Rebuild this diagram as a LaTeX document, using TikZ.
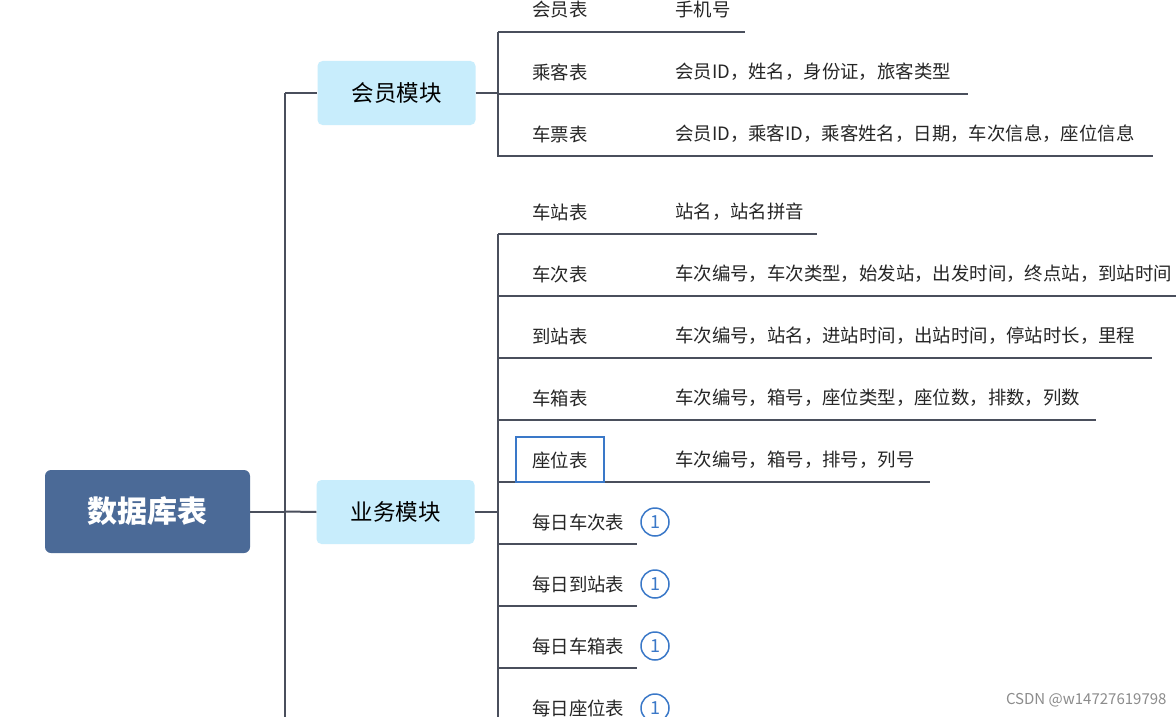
\documentclass[tikz,border=0pt]{standalone}
\usepackage{fontspec}
\setmainfont{Noto Sans CJK SC}
\definecolor{ln}{HTML}{4A4F5C}
\definecolor{rootc}{HTML}{4B6A97}
\definecolor{modc}{HTML}{C8EDFC}
\definecolor{cir}{HTML}{3A78C8}
\tikzset{
  ln/.style={draw=ln,line width=2pt},
  leaf/.style={anchor=west,font=\fontsize{18.4}{18.4}\selectfont,inner sep=0pt,text=black!85},
  mod/.style={fill=modc,rounded corners=5pt,minimum width=158pt,minimum height=64pt,font=\fontsize{22.5}{22.5}\selectfont},
  num/.style={circle,draw=cir,line width=1.5pt,minimum size=28pt,inner sep=0pt,font=\fontsize{18}{18}\selectfont,text=cir}
}
\begin{document}
\begin{tikzpicture}[x=1pt,y=-1pt]
\fill[white] (0,0) rectangle (1176,717);
\useasboundingbox (0,0) rectangle (1176,717);
\node[fill=rootc,rounded corners=6pt,minimum width=205pt,minimum height=83pt,text=white,font=\fontsize{30}{30}\selectfont\bfseries] (root) at (147.5,511.5) {数据库表};
\coordinate (sp) at (285,511.5);
\draw[ln] (root.east) -- (sp);
\draw[ln] (285,93) -- (285,717);
\node[mod] (m1) at (396.5,93) {会员模块};
\node[mod] (m2) at (395.5,512) {业务模块};
\draw[ln] (285,93) -- (m1.west);
\draw[ln] (sp) -- (m2.west);
\draw[ln] (m1.east) -- (498,93);
\draw[ln] (m2.east) -- (498,512);
\draw[ln] (498,32) -- (498,157);
\draw[ln] (498,234) -- (498,717);
\foreach \y/\e/\a/\b in {10/745/会员表/手机号, 72/968/乘客表/{会员ID，姓名，身份证，旅客类型}, 134/1153/车票表/{会员ID，乘客ID，乘客姓名，日期，车次信息，座位信息}, 212/817/车站表/{站名，站名拼音}, 274/1176/车次表/{车次编号，车次类型，始发站，出发时间，终点站，到站时间}, 336/1152/到站表/{车次编号，站名，进站时间，出站时间，停站时长，里程}, 398/1096/车箱表/{车次编号，箱号，座位类型，座位数，排数，列数}, 460/930/座位表/{车次编号，箱号，排号，列号}}{
  \node[leaf] at (532,\y) {\a};
  \node[leaf] at (675,\y) {\b};
  \draw[ln] (498,\y+22) -- (\e,\y+22);
}
\draw[draw=cir,line width=1.5pt] (516,437) rectangle (604,482);
\foreach \y/\a in {522/每日车次表, 584/每日到站表, 646/每日车箱表, 708/每日座位表}{
  \node[leaf] at (532,\y) {\a};
  \node[num] at (655,\y) {1};
  \draw[ln] (498,\y+22) -- (637,\y+22);
}
\node[anchor=east,font=\fontsize{15}{15}\selectfont,text=black!45] (wm) at (1170,700) {CSDN @w14727619798};
\end{tikzpicture}
\end{document}
